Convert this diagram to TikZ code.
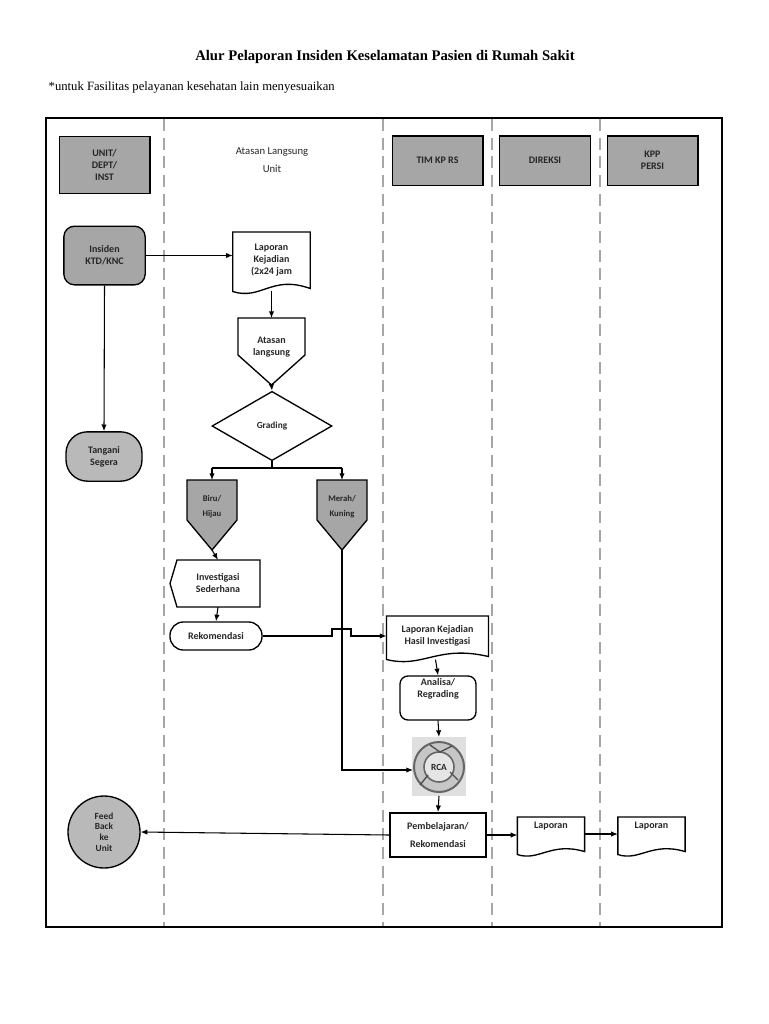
\documentclass[tikz,border=0pt]{standalone}
\usepackage{fontspec}
\setmainfont{Liberation Serif}
\newfontfamily\carf{Carlito}
\usetikzlibrary{calc,shapes.geometric,arrows.meta}
\begin{document}
\begin{tikzpicture}[x=0.75pt,y=-0.75pt,
  lbl/.style={font=\carf\bfseries\fontsize{7.5}{9}\selectfont,align=center,text=black!85},
  box/.style={lbl,draw,line width=1pt,inner sep=1pt},
  hdr/.style={box,fill=gray!70,minimum width=68pt,minimum height=37pt},
  ln/.style={line width=0.8pt},
  arr/.style={ln,-{Latex[length=5pt,width=4pt]}},
  lane/.style={gray!70,line width=1.2pt,dash pattern=on 9pt off 5pt},
  shp/.style={line width=1pt}]
\useasboundingbox (0,0) rectangle (768,1024);
% titles
\node[font=\bfseries\fontsize{11}{13}\selectfont] (title) at (385,57) {Alur Pelaporan Insiden Keselamatan Pasien di Rumah Sakit};
\node[anchor=west,font=\fontsize{9.5}{11}\selectfont] (sub) at (44,87) {*untuk Fasilitas pelayanan kesehatan lain menyesuaikan};
% frame and lanes
\draw[line width=1.3pt] (46,118) rectangle (722,927);
\foreach \x in {164,383,492,600}{\draw[lane] (\x,119) -- (\x,926);}
% headers
\node[hdr,minimum height=43pt] (h1) at (104.5,165) {UNIT/\\DEPT/\\INST};
\node[lbl,font=\carf\fontsize{8}{13}\selectfont] (h2) at (272,160) {Atasan Langsung\\Unit};
\node[hdr] (h3) at (437.5,160.5) {TIM KP RS};
\node[hdr] (h4) at (545,160.5) {DIREKSI};
\node[hdr] (h5) at (652.5,160.5) {KPP\\PERSI};
% left lane
\node[box,fill=gray!70,rounded corners=8pt,minimum width=61pt,minimum height=44pt] (ins) at (104.5,255.5) {Insiden\\KTD/KNC};
\node[box,fill=gray!55,rounded corners=16pt,minimum width=57pt,minimum height=37pt] (tan) at (104,456.5) {Tangani\\Segera};
\node[box,fill=gray!55,circle,minimum size=54pt,font=\carf\bfseries\fontsize{7}{8}\selectfont] (fb) at (104,832) {Feed\\Back\\ke\\Unit};
% Laporan Kejadian document
\node[lbl,minimum width=57.75pt,minimum height=42pt,anchor=north] (lap) at (271.5,232) {Laporan\\Kejadian\\(2x24 jam};
\draw[shp] (lap.south west) -- (lap.north west) -- (lap.north east) -- (lap.south east)
  .. controls ($(lap.south)+(0,-14)$) and ($(lap.south)+(-10,12)$) .. ($(lap.south west)+(0,3)$) -- (lap.south west);
% Atasan langsung (off-page)
\node[lbl,minimum width=50pt,minimum height=27pt,anchor=north,yshift=-8pt] (ata) at (271.5,318) {Atasan\\langsung};
\draw[shp] (271.5,318) coordinate (ataT) ++(-33.5,0) -- ++(67,0) -- (305,355) -- (271.5,385) coordinate (ataB) -- (238,355) -- cycle;
% Grading
\node[lbl,draw,line width=1pt,diamond,aspect=1.75,minimum width=90pt,minimum height=52pt,inner sep=0pt,font=\carf\bfseries\fontsize{7}{8}\selectfont] (gr) at (272,426) {Grading};
% branch
\coordinate (brL) at (212,468); \coordinate (brR) at (342,468);
\draw[ln] (gr.south) -- (272,468); \draw[ln] (brL) -- (brR);
% Biru/Hijau and Merah/Kuning
\foreach \n/\x/\t in {bh/212/{Biru/\\Hijau},mk/342/{Merah/\\Kuning}}{
  \fill[gray!70] (\x-25,480) -- (\x+25,480) -- (\x+25,520) -- (\x,550) -- (\x-25,520) -- cycle;
  \draw[shp] (\x-25,480) -- (\x+25,480) -- (\x+25,520) -- (\x,550) coordinate (\n B) -- (\x-25,520) -- cycle;
  \node[lbl,font=\carf\bfseries\fontsize{6.5}{11}\selectfont] (\n) at (\x,507) {\t};
  \coordinate (\n T) at (\x,480);
}
\draw[arr] (brL) -- (bhT);
\draw[arr] (brR) -- (mkT);
% Investigasi Sederhana
\node[lbl,minimum width=61pt,minimum height=35pt] (inv) at (218,583.5) {Investigasi\\Sederhana};
\draw[shp] (177,560) -- (260,560) -- (260,607) -- (177,607) -- (170,583.5) -- cycle;
\draw[arr] (bhB) -- (inv.north);
% Rekomendasi
\node[box,rounded corners=10pt,minimum width=69pt,minimum height=21pt] (rek) at (216,636) {Rekomendasi};
\draw[arr] (inv.south) -- (rek.north);
% Laporan Kejadian Hasil Investigasi
\node[lbl,minimum width=76pt,minimum height=30pt,anchor=north] (lkh) at (437.5,616) {Laporan Kejadian\\Hasil Investigasi};
\draw[shp] (lkh.south west) -- (lkh.north west) -- (lkh.north east) -- (lkh.south east)
  .. controls ($(lkh.south)+(0,-12)$) and ($(lkh.south)+(-14,12)$) .. ($(lkh.south west)+(0,3)$) -- (lkh.south west);
\draw[arr] (rek.east) -- (332,636) -- (332,629) -- (351,629) -- (351,636) -- (lkh.west |- 0,636);
% Analisa
\node[box,rounded corners=6pt,minimum width=57pt,minimum height=33pt] (ana) at (438,698) {Analisa/\\Regrading\\[6pt]};
\draw[arr] ($(lkh.south)+(-2,3)$) -- (ana.north);
% RCA
\fill[gray!25] (412,737) rectangle (466,796);
\draw[gray!80!black,line width=1.5pt,fill=gray!45] (439,767) circle (25);
\draw[gray!80!black,line width=1.2pt,fill=gray!20] (439,767) circle (15);
\draw[black!70,line width=1pt] (430,745) -- (440,752) -- (452,746);
\draw[black!70,line width=1pt] (420,785) -- (428,775);
\draw[black!70,line width=1pt] (458,780) -- (450,772);
\node[lbl,font=\carf\bfseries\fontsize{7}{8}\selectfont,circle,minimum size=40pt,inner sep=0pt] (rca) at (439,767) {RCA};
\draw[arr] (ana.south) -- (439,737);
\draw[arr] (mkB) -- (342,770) -- (413,770);
% Pembelajaran
\node[box,line width=1.3pt,minimum width=72pt,minimum height=33pt] (pem) at (438,835) {Pembelajaran/\\[4pt]Rekomendasi};
\draw[arr] (439,796) -- (pem.north);
\draw[arr] (pem.west) -- (fb.east);
% Laporan docs
\foreach \n/\x in {l1/551,l2/651.5}{
  \node[lbl,minimum width=50pt,minimum height=22pt,anchor=north,text depth=14pt] (\n) at (\x,817) {Laporan};
  \draw[shp] (\n.south west) -- (\n.north west) -- (\n.north east) -- (\n.south east)
    .. controls ($(\n.south)+(0,-10)$) and ($(\n.south)+(-12,10)$) .. ($(\n.south west)+(0,3)$) -- (\n.south west);
}
\draw[arr] (pem.east) -- (l1.west |- pem.east);
\draw[arr] (l1.east |- 0,834) -- (l2.west |- 0,834);
% arrows upper
\draw[arr] (ins.east) -- (lap.west |- ins.east);
\draw[arr] ($(lap.south)+(0,2)$) -- (ataT);
\draw[arr] (ataB) -- (gr.north);
\draw[arr] (ins.south) -- (tan.north);
\end{tikzpicture}
\end{document}
